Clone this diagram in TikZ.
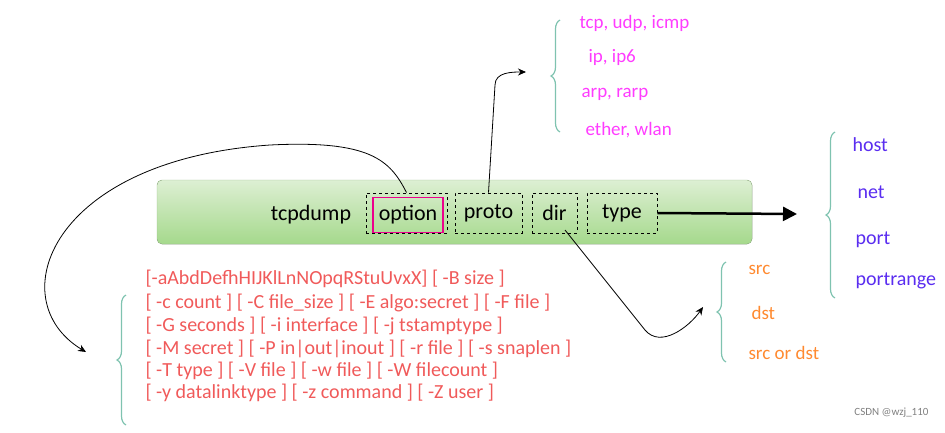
\documentclass[tikz,border=0pt]{standalone}
\usepackage{fontspec}
\setmainfont{Carlito}
\usetikzlibrary{decorations.pathreplacing,arrows.meta}
\definecolor{teal1}{HTML}{7FC3B0}
\definecolor{mag}{HTML}{FF3CFF}
\definecolor{vio}{HTML}{5A2DF0}
\definecolor{org}{HTML}{FF8A30}
\definecolor{redt}{HTML}{F05A5A}
\definecolor{gtop}{HTML}{DDEFD3}
\definecolor{gbot}{HTML}{A5D98C}
\begin{document}
\begin{tikzpicture}[x=1pt,y=-1pt,
  br/.style={draw=teal1,line width=1.2pt,decorate,decoration={brace,amplitude=9pt,mirror}},
  dbox/.style={draw,dashed,line width=0.9pt,minimum height=40pt,inner sep=0pt},
  kw/.style={font=\fontsize{22}{22}\selectfont},
  conn/.style={draw,line width=0.8pt,-{Stealth[length=8pt,width=7pt]}},
  lst/.style={font=\fontsize{20}{20}\selectfont,anchor=west}]
\useasboundingbox (0,0) rectangle (945,432);
\fill[top color=gtop,bottom color=gbot,rounded corners=5pt,draw=gbot!80!black!80] (157,180) rectangle (752,244);
\node[kw] (tcp) at (311,215) {tcpdump};
\node[dbox,minimum width=81pt] (opt) at (406.5,213) {};
\node[draw=magenta,line width=1.2pt,minimum width=70pt,minimum height=35pt,inner sep=0pt,kw] (optt) at (408,215) {option};
\node[dbox,minimum width=67pt,kw] (proto) at (488.5,213) {proto};
\node[dbox,minimum width=45pt,kw] (dir) at (554.5,213) {dir};
\node[dbox,minimum width=70pt,kw] (type) at (622,213) {type};
\coordinate (ta) at (797,214);
\draw[line width=2.5pt,-{Triangle[length=14pt,width=14pt]}] (type.east) -- (ta);
\draw[br] (835,132) -- (835,298);
\begin{scope}[font=\fontsize{20}{20}\selectfont,text=vio]
\node[anchor=west] (h) at (849,145) {host};
\node[anchor=west] (n) at (854,192) {net};
\node[anchor=west] (p) at (852,240) {port};
\node[anchor=west] (pr) at (852,281) {portrange};
\end{scope}
\coordinate (pa) at (526,72);
\draw[conn] (proto.north) -- (495,85) to[out=90,in=180] (pa);
\draw[br] (560,20) -- (560,132);
\begin{scope}[font=\fontsize{19}{19}\selectfont,text=mag]
\node[anchor=west] (p1) at (576,23) {tcp, udp, icmp};
\node[anchor=west] (p2) at (585,57) {ip, ip6};
\node[anchor=west] (p3) at (578,94) {arp, rarp};
\node[anchor=west] (p4) at (582,130) {ether, wlan};
\end{scope}
\coordinate (da) at (703,307);
\draw[conn] (565,230) -- (645,330) to[out=-50,in=235] (da);
\draw[br] (726,262) -- (726,362);
\begin{scope}[font=\fontsize{19}{19}\selectfont,text=org]
\node[anchor=west] (d1) at (745,270) {src};
\node[anchor=west] (d2) at (748,313) {dst};
\node[anchor=west] (d3) at (745,353) {src or dst};
\end{scope}
\coordinate (oa) at (86,352);
\draw[conn] (opt.north) .. controls (390,160) and (370,140) .. (270,145) .. controls (50,160) and (0,300) .. (oa);
\draw[br] (126,295) -- (126,425);
\begin{scope}[text=redt]
\node[lst] (l1) at (142,279) {[-aAbdDefhHIJKlLnNOpqRStuUvxX] [ -B size ]};
\node[lst] (l2) at (142,303) {[ -c count ] [ -C file\_size ] [ -E algo:secret ] [ -F file ]};
\node[lst] (l3) at (142,326) {[ -G seconds ] [ -i interface ] [ -j tstamptype ]};
\node[lst] (l4) at (142,349) {[ -M secret ] [ -P in|out|inout ] [ -r file ] [ -s snaplen ]};
\node[lst] (l5) at (142,371) {[ -T type ] [ -V file ] [ -w file ] [ -W filecount ]};
\node[lst] (l6) at (142,393) {[ -y datalinktype ] [ -z command ] [ -Z user ]};
\end{scope}
\node[font=\fontsize{11}{11}\selectfont,text=gray,anchor=east] (wm) at (932,413) {CSDN @wzj\_110};
\end{tikzpicture}
\end{document}
